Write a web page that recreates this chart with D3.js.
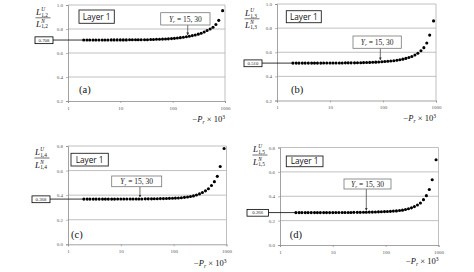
<!DOCTYPE html>
<html>
<head>
<meta charset="utf-8">
<script src="https://cdn.jsdelivr.net/npm/d3@7"></script>
<style>
body { margin: 0; background: #fff; }
</style>
</head>
<body>
<svg id="chart" width="474" height="272"></svg>
<script>
// -P_r x 10^3, shared by all four panels
var pressures = [2, 2.3, 2.6, 3, 3.4, 3.9, 4.5, 5.1, 5.8, 6.7, 7.6, 8.7, 10, 11.4, 13, 15, 17, 19.5, 22, 25,
	29, 33, 38, 43, 49, 56, 64, 73, 83, 95, 108, 123, 140, 160, 183, 208, 237, 270, 308, 350,
	400, 455, 520, 590, 670, 760, 900];

var ratio12 = [0.708, 0.708, 0.708, 0.708, 0.708, 0.708, 0.708, 0.708, 0.708, 0.709, 0.709, 0.709, 0.709, 0.709, 0.709, 0.710, 0.710, 0.710, 0.710, 0.711,
	0.711, 0.711, 0.712, 0.713, 0.714, 0.715, 0.716, 0.717, 0.718, 0.720, 0.722, 0.725, 0.728, 0.731, 0.735, 0.740, 0.745, 0.750, 0.757, 0.765,
	0.775, 0.787, 0.800, 0.815, 0.837, 0.872, 0.953];
var ratio13 = [0.510, 0.510, 0.510, 0.510, 0.510, 0.510, 0.510, 0.510, 0.510, 0.510, 0.511, 0.511, 0.511, 0.511, 0.511, 0.511, 0.511, 0.512, 0.512, 0.512,
	0.512, 0.513, 0.513, 0.514, 0.515, 0.516, 0.517, 0.518, 0.519, 0.521, 0.523, 0.525, 0.527, 0.530, 0.534, 0.538, 0.543, 0.549, 0.556, 0.565,
	0.577, 0.592, 0.612, 0.638, 0.677, 0.742, 0.860];
var ratio14 = [0.368, 0.368, 0.368, 0.368, 0.368, 0.368, 0.368, 0.368, 0.368, 0.368, 0.368, 0.369, 0.369, 0.369, 0.369, 0.369, 0.369, 0.369, 0.369, 0.369,
	0.370, 0.370, 0.370, 0.371, 0.371, 0.372, 0.372, 0.373, 0.374, 0.375, 0.376, 0.377, 0.379, 0.382, 0.385, 0.389, 0.394, 0.401, 0.410, 0.421,
	0.435, 0.452, 0.478, 0.510, 0.553, 0.633, 0.780];
var ratio15 = [0.266, 0.266, 0.266, 0.266, 0.266, 0.266, 0.266, 0.266, 0.266, 0.266, 0.266, 0.266, 0.266, 0.267, 0.267, 0.267, 0.267, 0.267, 0.267, 0.268,
	0.268, 0.268, 0.269, 0.269, 0.270, 0.270, 0.271, 0.272, 0.273, 0.274, 0.275, 0.276, 0.278, 0.280, 0.283, 0.286, 0.291, 0.297, 0.305, 0.315,
	0.328, 0.345, 0.372, 0.405, 0.455, 0.535, 0.700];

var ratios = [ratio12, ratio13, ratio14, ratio15];
var baselines = [0.708, 0.510, 0.368, 0.266];
var subscripts = ["1,2", "1,3", "1,4", "1,5"];
var panelLetters = ["(a)", "(b)", "(c)", "(d)"];
var arrowPressures = [194, 89, 23, 43];
var xTicks = [1, 10, 100, 1000];
var yTicksTop = [0.2, 0.4, 0.6, 0.8, 1.0];
var yTicksBottom = [0.0, 0.2, 0.4, 0.6, 0.8];
var yTicks = [yTicksTop, yTicksTop, yTicksBottom, yTicksBottom];

// where each panel sits on the page
var layout = [
	{x0: 68, x1: 225, y0: 5, y1: 101, lab: {x: 36, num: 15, line: 17.8, den: 26.5}, xt: 122,
		base: {x: 35, w: 18}, ann: {x: 160.7, y: 12.7, w: 49.3, h: 12.3},
		layer: {x: 79, y: 10, w: 35.3, h: 13.3}, letter: {x: 79, y: 93}},
	{x0: 277, x1: 436, y0: 4, y1: 100.5, lab: {x: 245, num: 16, line: 18.8, den: 27.5}, xt: 121,
		base: {x: 244, w: 18}, ann: {x: 353, y: 36, w: 48.3, h: 12.3},
		layer: {x: 286.3, y: 10.7, w: 35, h: 12}, letter: {x: 291, y: 93}},
	{x0: 68, x1: 226.5, y0: 146, y1: 244.3, lab: {x: 35, num: 155, line: 158, den: 167.5}, xt: 266,
		base: {x: 32, w: 18}, ann: {x: 111.7, y: 176, w: 50, h: 10.7},
		layer: {x: 71, y: 153.3, w: 37.3, h: 12.7}, letter: {x: 71, y: 238}},
	{x0: 280, x1: 438.5, y0: 147.5, y1: 245, lab: {x: 253, num: 152, line: 155, den: 164.5}, xt: 264,
		base: {x: 247, w: 21.5}, ann: {x: 344, y: 179, w: 47, h: 10},
		layer: {x: 286.3, y: 156, w: 36.7, h: 10.7}, letter: {x: 289.7, y: 238}}
];

var svg = d3.select("#chart");
var serif = "'Liberation Serif', 'DejaVu Serif', serif";
var sans = "'Open Sans', 'Liberation Sans', sans-serif";

svg.append("defs").append("marker")
	.attr("id", "head")
	.attr("viewBox", "0 0 6 6")
	.attr("refX", 5)
	.attr("refY", 3)
	.attr("markerWidth", 4)
	.attr("markerHeight", 4)
	.attr("orient", "auto")
	.append("path")
	.attr("d", "M0,0 L6,3 L0,6 Z")
	.attr("fill", "#333");

function drawPanel(i)
{
	var L = layout[i];
	var vals = ratios[i];
	var ticks = yTicks[i];
	var g = svg.append("g");

	var x = d3.scaleLog().domain([1, 1000]).range([L.x0, L.x1]);
	var y = d3.scaleLinear().domain([ticks[0], ticks[ticks.length - 1]]).range([L.y1, L.y0]);

	// gridlines + frame
	g.selectAll("line.grid").data(ticks.slice(1)).enter().append("line")
		.attr("x1", L.x0).attr("x2", L.x1)
		.attr("y1", function(d) { return y(d); })
		.attr("y2", function(d) { return y(d); })
		.attr("stroke", "#b0b0b0")
		.attr("stroke-width", 0.8);

	g.append("line")
		.attr("x1", L.x1).attr("x2", L.x1)
		.attr("y1", L.y0).attr("y2", L.y1)
		.attr("stroke", "#b0b0b0")
		.attr("stroke-width", 0.8);

	var yAxis = g.append("g")
		.attr("transform", "translate(" + L.x0 + ",0)")
		.call(d3.axisLeft(y).tickValues(ticks).tickSize(2).tickPadding(3).tickFormat(d3.format(".1f")));

	var xAxis = g.append("g")
		.attr("transform", "translate(0," + L.y1 + ")")
		.call(d3.axisBottom(x).tickValues(xTicks).tickSize(2).tickPadding(3).tickFormat(d3.format("d")));

	[yAxis, xAxis].forEach(function(a)
	{
		a.select(".domain").attr("stroke", "#8a8a8a").attr("stroke-width", 0.8);
		a.selectAll(".tick line").attr("stroke", "#8a8a8a").attr("stroke-width", 0.6);
		a.selectAll(".tick text")
			.attr("fill", "#555")
			.attr("font-size", "5px")
			.attr("font-family", serif);
	});

	// baseline value box and leader line
	var by = y(baselines[i]);
	g.append("line")
		.attr("x1", L.base.x + L.base.w).attr("x2", x(pressures[0]))
		.attr("y1", by).attr("y2", by)
		.attr("stroke", "#000")
		.attr("stroke-width", 0.8);

	g.append("rect")
		.attr("x", L.base.x).attr("y", by - 3.2)
		.attr("width", L.base.w).attr("height", 6.8)
		.attr("fill", "#fff")
		.attr("stroke", "#000")
		.attr("stroke-width", 0.8);

	g.append("text")
		.text(d3.format(".3f")(baselines[i]))
		.attr("x", L.base.x + L.base.w / 2)
		.attr("y", by + 1.8)
		.attr("text-anchor", "middle")
		.attr("font-size", "4.8px")
		.attr("font-family", serif)
		.attr("fill", "#222");

	// points
	g.selectAll("circle.pt").data(vals).enter().append("circle")
		.attr("cx", function(d, j) { return x(pressures[j]); })
		.attr("cy", function(d) { return y(d); })
		.attr("r", 1.55)
		.attr("fill", "#000");

	// Layer 1 box
	g.append("rect")
		.attr("x", L.layer.x).attr("y", L.layer.y)
		.attr("width", L.layer.w).attr("height", L.layer.h)
		.attr("fill", "#fff")
		.attr("stroke", "#222")
		.attr("stroke-width", 0.9);

	g.append("text")
		.text("Layer 1")
		.attr("x", L.layer.x + L.layer.w / 2)
		.attr("y", L.layer.y + L.layer.h / 2 + 2.9)
		.attr("text-anchor", "middle")
		.attr("font-size", "8.2px")
		.attr("font-family", sans)
		.attr("fill", "#111");

	// Y_r annotation with arrow
	var near = d3.leastIndex(pressures, function(p) { return Math.abs(Math.log(p) - Math.log(arrowPressures[i])); });
	var ax = x(arrowPressures[i]);
	g.append("line")
		.attr("x1", ax).attr("x2", ax)
		.attr("y1", L.ann.y + L.ann.h)
		.attr("y2", y(vals[near]) - 2)
		.attr("stroke", "#333")
		.attr("stroke-width", 0.7)
		.attr("marker-end", "url(#head)");

	g.append("rect")
		.attr("x", L.ann.x).attr("y", L.ann.y)
		.attr("width", L.ann.w).attr("height", L.ann.h)
		.attr("fill", "#fff")
		.attr("stroke", "#777")
		.attr("stroke-width", 0.8);

	var at = g.append("text")
		.attr("x", L.ann.x + L.ann.w / 2)
		.attr("y", L.ann.y + L.ann.h / 2 + 2.7)
		.attr("text-anchor", "middle")
		.attr("font-size", "7.5px")
		.attr("font-family", serif)
		.attr("fill", "#222");
	at.append("tspan").text("Y").attr("font-style", "italic");
	at.append("tspan").text("r").attr("font-style", "italic").attr("font-size", "5px").attr("dy", 1.5);
	at.append("tspan").text(" = 15, 30").attr("dy", -1.5);

	// panel letter
	g.append("text")
		.text(panelLetters[i])
		.attr("x", L.letter.x).attr("y", L.letter.y)
		.attr("font-size", "10.5px")
		.attr("font-family", serif)
		.attr("fill", "#111");

	// y title as a fraction L^U / L^N
	[["U", L.lab.num], ["N", L.lab.den]].forEach(function(part)
	{
		g.append("text").text("L")
			.attr("x", L.lab.x).attr("y", part[1])
			.attr("font-size", "9px").attr("font-style", "italic")
			.attr("font-family", serif).attr("fill", "#111");
		g.append("text").text(part[0])
			.attr("x", L.lab.x + 5.2).attr("y", part[1] - 3.8)
			.attr("font-size", "5.3px").attr("font-style", "italic")
			.attr("font-family", serif).attr("fill", "#111");
		g.append("text").text(subscripts[i])
			.attr("x", L.lab.x + 5.2).attr("y", part[1] + 1.8)
			.attr("font-size", "5.3px")
			.attr("font-family", serif).attr("fill", "#111");
	});
	g.append("line")
		.attr("x1", L.lab.x - 0.5).attr("x2", L.lab.x + 14.5)
		.attr("y1", L.lab.line).attr("y2", L.lab.line)
		.attr("stroke", "#111").attr("stroke-width", 0.6);

	// x title -P_r x 10^3
	var xt = g.append("text")
		.attr("x", L.x1).attr("y", L.xt)
		.attr("text-anchor", "end")
		.attr("font-size", "8.5px")
		.attr("font-family", serif)
		.attr("fill", "#111");
	xt.append("tspan").text("\u2212");
	xt.append("tspan").text("P").attr("font-style", "italic");
	xt.append("tspan").text("r").attr("font-style", "italic").attr("font-size", "5.5px").attr("dy", 1.8);
	xt.append("tspan").text(" \u00d7 10").attr("dy", -1.8);
	xt.append("tspan").text("3").attr("font-size", "5.5px").attr("dy", -3.5);
}

ratios.forEach(function(d, i) { drawPanel(i); });
</script>
</body>
</html>
